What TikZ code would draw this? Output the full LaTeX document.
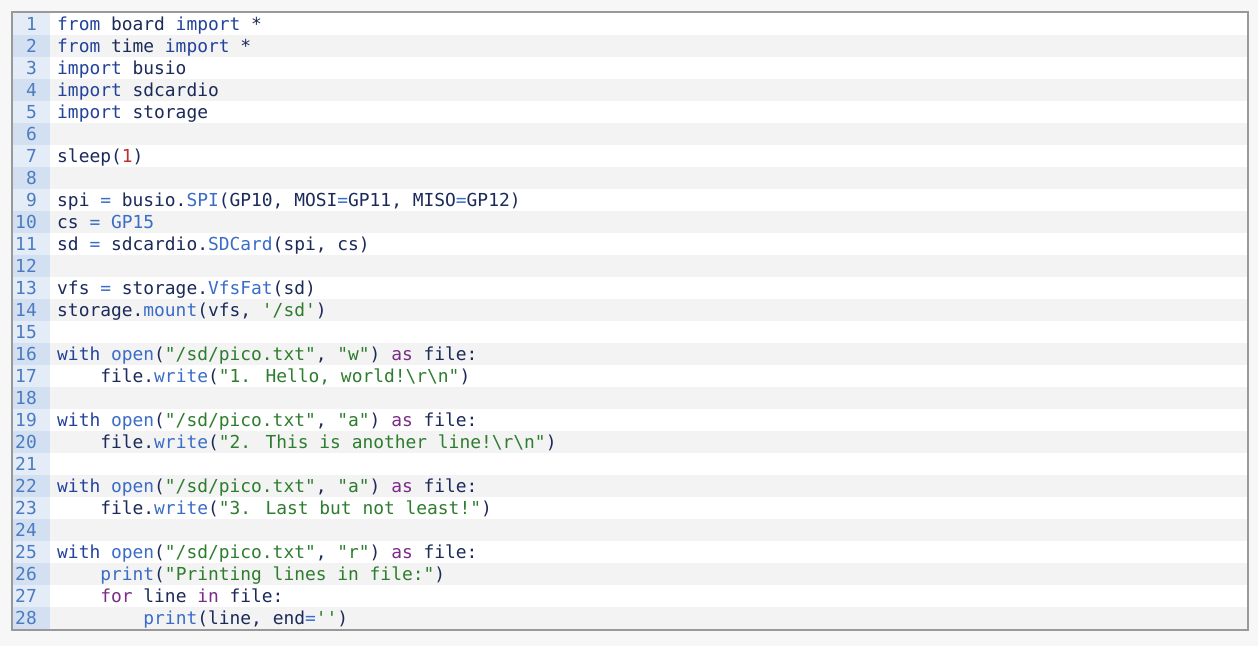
\documentclass[tikz,border=0pt]{standalone}
\usepackage{fontspec}
\newfontfamily\code{DejaVu Sans Mono}
\definecolor{bgc}{HTML}{F7F7F7}
\definecolor{txt}{HTML}{1C2A5A}
\definecolor{kw}{HTML}{23439A}
\definecolor{fn}{HTML}{3A6CC8}
\definecolor{st}{HTML}{2E7D2E}
\definecolor{pu}{HTML}{7A2C86}
\definecolor{nu}{HTML}{C0302A}
\definecolor{gut}{HTML}{E4ECF8}
\definecolor{gutd}{HTML}{D3E0F2}
\definecolor{gnum}{HTML}{4C7CC0}
\definecolor{rowd}{HTML}{F3F3F3}
\newcommand\K[1]{\textcolor{kw}{#1}}
\newcommand\F[1]{\textcolor{fn}{#1}}
\newcommand\St[1]{\textcolor{st}{#1}}
\newcommand\Pu[1]{\textcolor{pu}{#1}}
\newcommand\Nu[1]{\textcolor{nu}{#1}}
\newcommand\Eq{\textcolor{fn}{=}}
\newcommand\bs{\textbackslash}
\begin{document}
\begin{tikzpicture}[x=1pt,y=-1pt,
  code/.style={anchor=base west,inner sep=0pt,font=\code\fontsize{17.9}{20}\selectfont,text=txt},
  num/.style={anchor=base east,inner sep=0pt,font=\code\fontsize{17.9}{20}\selectfont,text=gnum}]
\fill[bgc] (0,0) rectangle (1258,646);
\useasboundingbox (0,0) rectangle (1258,646);
\fill[white] (12,12) rectangle (1248,630);
\foreach \i in {1,...,28}{
  \pgfmathsetmacro\ya{13+(\i-1)*22}
  \pgfmathsetmacro\yb{\ya+22}
  \ifodd\i
    \fill[gut] (12,\ya) rectangle (50,\yb);
  \else
    \fill[rowd] (50,\ya) rectangle (1248,\yb);
    \fill[gutd] (12,\ya) rectangle (50,\yb);
  \fi
  \node[num] (n\i) at (37,\ya+17) {\i};
}
\draw[gray!80,line width=1.2pt] (12,12) rectangle (1248,630);
\newcommand\cl[3]{\node[code] (c#1) at (57+#2*10.78,13+#1*22-5) {#3};}
\cl{1}{0}{\K{from} board \K{import} *}
\cl{2}{0}{\K{from} time \K{import} *}
\cl{3}{0}{\K{import} busio}
\cl{4}{0}{\K{import} sdcardio}
\cl{5}{0}{\K{import} storage}
\cl{7}{0}{sleep(\Nu{1})}
\cl{9}{0}{spi \Eq{} busio.\F{SPI}(GP10, MOSI\Eq{}GP11, MISO\Eq{}GP12)}
\cl{10}{0}{cs \Eq{} \F{GP15}}
\cl{11}{0}{sd \Eq{} sdcardio.\F{SDCard}(spi, cs)}
\cl{13}{0}{vfs \Eq{} storage.\F{VfsFat}(sd)}
\cl{14}{0}{storage.\F{mount}(vfs, \St{'/sd'})}
\cl{16}{0}{\K{with} \F{open}(\St{"/sd/pico.txt"}, \St{"w"}) \Pu{as} file:}
\cl{17}{4}{file.\F{write}(\St{"1. Hello, world!\bs r\bs n"})}
\cl{19}{0}{\K{with} \F{open}(\St{"/sd/pico.txt"}, \St{"a"}) \Pu{as} file:}
\cl{20}{4}{file.\F{write}(\St{"2. This is another line!\bs r\bs n"})}
\cl{22}{0}{\K{with} \F{open}(\St{"/sd/pico.txt"}, \St{"a"}) \Pu{as} file:}
\cl{23}{4}{file.\F{write}(\St{"3. Last but not least!"})}
\cl{25}{0}{\K{with} \F{open}(\St{"/sd/pico.txt"}, \St{"r"}) \Pu{as} file:}
\cl{26}{4}{\F{print}(\St{"Printing lines in file:"})}
\cl{27}{4}{\Pu{for} line \Pu{in} file:}
\cl{28}{8}{\F{print}(line, end\Eq{}\St{''})}
\end{tikzpicture}
\end{document}
